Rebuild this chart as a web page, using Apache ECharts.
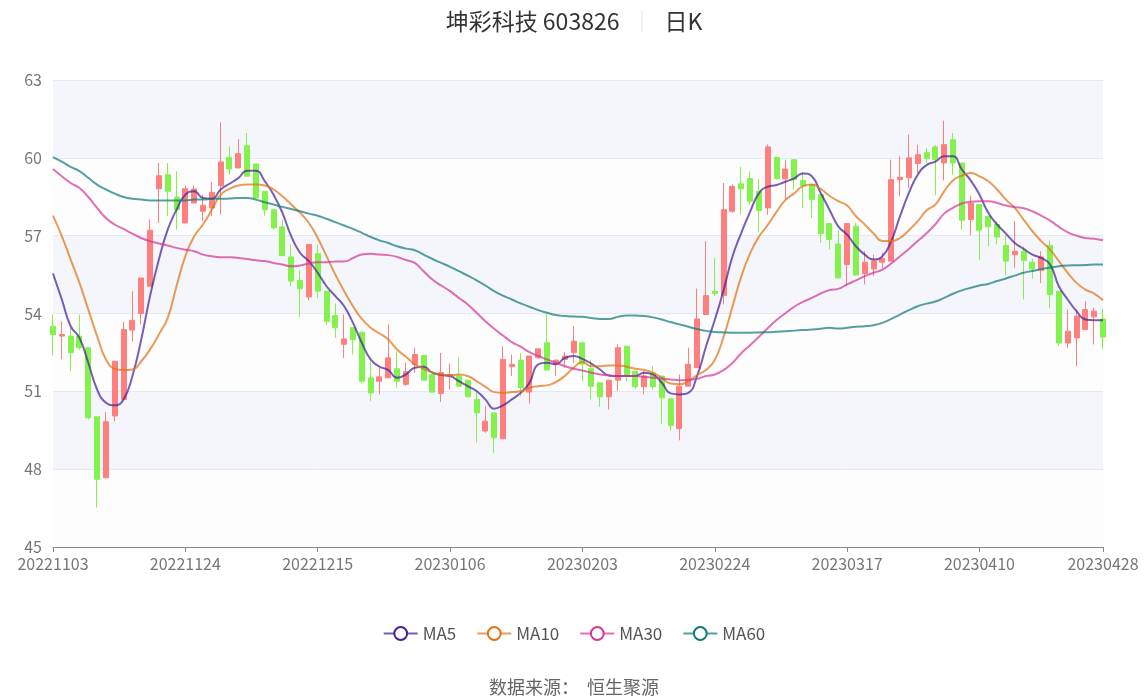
<!DOCTYPE html>
<html>
<head>
<meta charset="utf-8">
<script src="https://cdn.jsdelivr.net/npm/echarts@6/dist/echarts.min.js"></script>
<style>html,body{margin:0;padding:0;background:#fff}#c{width:1148px;height:699px}</style>
</head>
<body>
<div id="c"></div>
<script>
const dates = ['20221103','20221104','20221107','20221108','20221109','20221110','20221111','20221114','20221115','20221116','20221117','20221118','20221121','20221122','20221123','20221124','20221125','20221128','20221129','20221130',
'20221201','20221202','20221205','20221206','20221207','20221208','20221209','20221212','20221213','20221214','20221215','20221216','20221219','20221220','20221221','20221222','20221223','20221226','20221227','20221228','20221229','20221230',
'20230103','20230104','20230105','20230106','20230109','20230110','20230111','20230112','20230113','20230116','20230117','20230118','20230119','20230120','20230130','20230131',
'20230201','20230202','20230203','20230206','20230207','20230208','20230209','20230210','20230213','20230214','20230215','20230216','20230217','20230220','20230221','20230222','20230223','20230224','20230227','20230228',
'20230301','20230302','20230303','20230306','20230307','20230308','20230309','20230310','20230313','20230314','20230315','20230316','20230317','20230320','20230321','20230322','20230323','20230324','20230327','20230328','20230329','20230330','20230331',
'20230403','20230404','20230406','20230407','20230410','20230411','20230412','20230413','20230414','20230417','20230418','20230419','20230420','20230421','20230424','20230425','20230426','20230427','20230428'];

// [open, close, low, high]
const kData = [
[53.51,53.19,52.38,53.96],[53.13,53.19,52.23,53.70],[53.13,52.49,51.78,53.45],[53.13,52.68,52.60,53.96],[52.68,49.98,49.92,52.70],
[50.02,47.61,46.52,50.02],[47.67,49.83,47.67,50.20],[50.05,52.16,49.85,52.16],[50.69,53.38,50.69,53.68],[53.36,53.74,52.93,54.86],
[54.00,55.37,53.58,55.37],[55.05,57.21,55.05,57.62],[58.81,59.31,57.49,59.80],[59.35,58.71,57.75,59.80],[58.49,58.00,57.23,59.48],
[57.49,58.81,57.49,58.93],[58.26,58.80,58.26,58.93],[57.94,58.17,57.56,58.58],[58.07,58.67,57.75,59.06],[58.93,59.84,57.81,61.37],
[60.02,59.57,59.35,60.44],[59.61,60.16,59.61,60.72],[60.47,59.29,59.29,60.96],[59.76,58.45,58.45,59.76],[58.71,58.00,57.77,58.71],
[58.00,57.30,57.23,58.00],[57.34,56.23,56.23,57.62],[56.18,55.25,55.05,56.66],[55.27,54.96,53.87,55.67],[54.64,56.66,54.51,56.66],
[56.30,54.86,54.60,56.66],[54.86,53.70,53.58,54.86],[53.92,53.45,53.06,54.39],[52.81,53.02,52.29,53.96],[53.45,53.00,52.42,53.45],
[53.28,51.39,51.30,53.28],[51.52,50.94,50.62,52.16],[51.39,51.56,50.88,51.91],[51.52,52.29,51.52,53.58],[51.87,51.39,51.14,52.55],
[51.27,51.76,51.20,52.10],[52.04,52.42,51.72,52.68],[52.38,51.43,51.43,52.42],[51.65,50.97,50.97,51.65],[50.92,51.72,50.59,52.48],
[51.60,51.65,51.07,52.07],[51.59,51.20,51.20,52.30],[51.43,50.79,50.79,51.43],[50.69,50.17,49.02,51.00],[49.47,49.85,49.40,50.43],
[50.17,49.21,48.63,50.17],[49.17,52.23,49.17,52.74],[51.95,52.04,51.59,52.42],[52.20,51.14,50.82,52.48],[50.97,52.36,50.53,52.36],
[52.29,52.64,52.25,52.64],[52.87,51.82,51.82,54.00],[52.04,52.20,51.59,52.23],[52.23,52.36,51.91,52.51],[52.49,52.93,52.10,53.51],
[52.87,52.05,51.39,52.87],[51.87,51.20,50.69,52.23],[51.33,50.79,50.40,51.33],[50.79,51.43,50.30,51.43],[51.43,52.68,51.01,52.81],
[52.74,51.59,51.39,52.74],[51.78,51.18,51.10,51.78],[51.18,51.59,50.88,51.78],[51.71,51.18,51.07,51.97],[51.59,50.75,49.73,51.59],
[50.71,49.69,49.47,50.71],[49.56,51.20,49.11,51.65],[51.20,52.04,51.20,52.68],[51.91,53.79,51.91,54.96],[53.96,54.69,53.96,56.79],
[54.86,54.77,54.69,56.14],[54.69,58.00,54.35,59.03],[57.94,58.90,57.88,58.97],[59.00,58.81,57.81,59.65],[59.20,58.33,58.20,59.48],
[58.71,57.97,57.14,59.18],[58.07,60.42,57.81,60.51],[60.02,59.20,59.16,60.02],[59.19,59.57,58.39,59.93],[59.93,59.16,58.78,59.93],
[59.13,58.93,58.07,59.45],[58.97,58.39,57.68,58.97],[58.58,57.08,56.72,58.58],[57.47,56.85,56.47,57.47],[56.68,55.37,55.37,57.21],
[55.89,57.47,55.05,57.49],[57.36,55.48,55.48,57.49],[55.54,55.98,55.12,56.40],[55.72,56.02,55.44,56.27],[55.98,56.12,55.76,56.34],
[56.02,59.16,56.02,59.93],[59.16,59.25,58.52,60.06],[59.23,60.00,58.84,60.89],[59.78,60.12,59.42,60.51],[60.20,59.98,59.80,60.38],
[60.42,59.93,58.56,60.49],[59.80,60.51,59.13,61.43],[60.70,59.80,59.35,60.96],[59.80,57.59,57.21,59.80],[57.62,58.24,57.01,58.54],
[58.20,57.21,56.07,58.20],[57.75,57.34,56.59,57.75],[57.43,56.95,56.66,57.56],[56.62,56.02,55.48,57.04],[56.27,56.40,55.76,57.56],
[56.40,56.05,54.54,56.59],[55.98,55.72,55.34,56.11],[55.66,56.18,55.17,56.40],[56.62,54.73,54.21,56.81],[54.86,52.86,52.76,54.86],
[52.86,53.32,52.67,54.15],[53.06,53.90,51.97,54.15],[53.38,54.15,53.38,54.47],[53.87,54.09,52.81,54.22],[53.79,53.09,52.61,54.18]
];

const ma5 = [55.54,54.54,53.51,53.06,52.10,51.07,50.56,50.46,50.69,51.59,53.00,54.67,56.08,57.23,58.00,58.58,58.71,58.45,58.42,58.78,
59.00,59.22,59.50,59.50,59.10,58.58,57.88,56.98,56.34,56.02,55.57,55.05,54.67,54.28,53.64,52.87,52.23,51.95,51.82,51.52,
51.65,51.91,51.95,51.72,51.63,51.59,51.39,51.20,51.01,50.69,50.33,50.46,50.69,50.94,51.33,52.04,52.10,52.04,52.29,52.36,
52.25,52.07,51.84,51.61,51.59,51.59,51.59,51.72,51.65,51.33,50.92,50.88,50.94,51.60,52.72,53.75,54.90,56.19,57.10,57.92,
58.63,58.89,58.95,59.08,59.21,59.40,59.29,58.65,58.00,57.36,57.04,56.59,56.27,56.08,56.21,56.79,57.75,58.65,59.35,59.72,
59.85,60.06,60.06,59.55,59.13,58.58,57.88,57.43,57.08,56.72,56.49,56.27,56.14,55.89,55.05,54.54,54.09,53.77,53.74,53.74];

const ma10 = [57.77,56.98,56.08,55.18,54.15,53.13,52.23,51.87,51.82,51.84,52.16,52.61,53.19,53.83,55.05,56.21,56.98,57.43,58.00,58.58,
58.80,58.93,58.97,58.97,58.93,58.78,58.52,58.20,57.88,57.49,56.91,56.21,55.50,54.86,54.28,53.79,53.45,53.23,53.00,52.61,
52.33,52.04,51.87,51.72,51.65,51.61,51.65,51.59,51.39,51.18,50.97,50.94,50.97,51.00,51.14,51.20,51.23,51.36,51.59,51.91,
52.13,51.97,51.97,52.00,52.00,51.95,51.87,51.82,51.72,51.52,51.30,51.27,51.39,51.63,51.82,52.21,53.10,54.26,55.42,56.32,
56.96,57.41,57.92,58.37,58.63,58.91,58.97,58.80,58.54,58.33,58.16,57.75,57.43,57.08,56.79,56.79,56.91,57.21,57.56,57.97,
58.20,58.71,59.13,59.31,59.42,59.29,59.10,58.78,58.39,58.07,57.62,57.17,56.79,56.46,56.02,55.57,55.18,54.92,54.77,54.51];

const ma30 = [59.57,59.29,59.03,58.84,58.49,58.07,57.68,57.43,57.26,57.08,56.91,56.79,56.70,56.62,56.53,56.46,56.40,56.27,56.21,56.17,
56.17,56.14,56.10,56.05,56.02,55.95,55.89,55.82,55.85,55.93,55.98,55.98,56.00,56.00,56.14,56.27,56.30,56.27,56.25,56.18,
56.06,55.95,55.63,55.31,55.08,54.86,54.60,54.35,54.03,53.70,53.41,53.15,52.90,52.72,52.51,52.36,52.23,52.10,51.97,51.87,
51.80,51.72,51.65,51.61,51.59,51.59,51.59,51.56,51.52,51.49,51.46,51.43,51.45,51.48,51.59,51.65,51.82,52.09,52.47,52.78,
53.10,53.43,53.75,54.01,54.26,54.45,54.60,54.77,54.90,54.95,55.12,55.28,55.44,55.57,55.69,55.93,56.21,56.49,56.79,57.09,
57.44,57.85,58.07,58.24,58.31,58.33,58.33,58.26,58.16,58.10,58.06,57.94,57.77,57.58,57.34,57.13,57.00,56.91,56.88,56.82];

const ma60 = [60.03,59.85,59.65,59.49,59.23,58.97,58.78,58.62,58.49,58.42,58.39,58.36,58.36,58.36,58.36,58.36,58.39,58.39,58.42,58.42,
58.43,58.45,58.45,58.39,58.29,58.20,58.11,58.03,57.94,57.85,57.77,57.65,57.52,57.39,57.26,57.11,56.95,56.82,56.72,56.59,
56.50,56.44,56.27,56.10,55.95,55.80,55.63,55.46,55.28,55.08,54.86,54.69,54.54,54.39,54.26,54.13,54.03,53.94,53.90,53.88,
53.87,53.83,53.79,53.79,53.87,53.92,53.92,53.90,53.85,53.77,53.67,53.58,53.49,53.40,53.33,53.29,53.27,53.26,53.26,53.26,
53.27,53.28,53.30,53.32,53.34,53.36,53.38,53.41,53.45,53.42,53.45,53.49,53.51,53.55,53.64,53.79,53.96,54.13,54.28,54.38,
54.46,54.60,54.76,54.89,54.99,55.08,55.14,55.25,55.35,55.46,55.57,55.64,55.71,55.77,55.82,55.85,55.86,55.87,55.89,55.89];

const yTicks = {min: 45, max: 63, interval: 3};
const lastIdx = dates.length - 1;
const showLabel = (i) => i % 15 === 0 || i === lastIdx;

const FONT = '"Noto Sans CJK SC", "Noto Sans", sans-serif';

function maSeries(name, data, color) {
  return {
    name: name, type: 'line', data: data, smooth: true, showSymbol: false,
    symbol: 'emptyCircle', symbolSize: 8,
    itemStyle: {color: color, borderWidth: 2},
    lineStyle: {width: 2, color: color, opacity: 0.72},
    z: 3
  };
}

const chart = echarts.init(document.getElementById('c'));
chart.setOption({
  animation: false,
  textStyle: {fontFamily: FONT},
  title: [{
    text: '坤彩科技 603826{gap|}{sep|}{gap|}日K',
    left: 'center', top: 5,
    textStyle: {
      fontSize: 23, fontWeight: 'normal', color: '#333', fontFamily: FONT,
      rich: {
        gap: {width: 22},
        sep: {width: 1, height: 22, backgroundColor: '#e4e4e4'}
      }
    }
  }, {
    text: '数据来源：  恒生聚源',
    left: 'center', top: 673,
    textStyle: {fontSize: 18, fontWeight: 'normal', color: '#666', fontFamily: FONT}
  }],
  legend: {
    data: ['MA5', 'MA10', 'MA30', 'MA60'],
    left: 'center', top: 620,
    itemWidth: 34, itemHeight: 16, itemGap: 20,
    textStyle: {fontSize: 17, color: '#555'}
  },
  grid: {left: 53, right: 45, top: 80, bottom: 152},
  xAxis: {
    type: 'category', data: dates, boundaryGap: false,
    axisLine: {lineStyle: {color: '#888'}},
    axisTick: {show: true, alignWithLabel: true, interval: showLabel, lineStyle: {color: '#888'}},
    axisLabel: {interval: showLabel, color: '#777', fontSize: 16, margin: 9, showMaxLabel: true},
    splitLine: {show: false}
  },
  yAxis: {
    type: 'value', min: yTicks.min, max: yTicks.max, interval: yTicks.interval, scale: true,
    axisLine: {show: false}, axisTick: {show: false},
    axisLabel: {color: '#777', fontSize: 16, margin: 11},
    splitLine: {lineStyle: {color: '#e4e8f2'}},
    splitArea: {show: true, areaStyle: {color: ['#fdfdfe', '#f5f6fb']}}
  },
  series: [
    {
      name: 'K', type: 'candlestick', data: kData, barWidth: 5.5, clip: false,
      itemStyle: {
        color: '#ff7f7f', color0: '#83f24d',
        borderColor: '#ff7f7f', borderColor0: '#83f24d', borderWidth: 1
      },
      z: 2
    },
    maSeries('MA5', ma5, '#44209a'),
    maSeries('MA10', ma10, '#e07416'),
    maSeries('MA30', ma30, '#d43896'),
    maSeries('MA60', ma60, '#147a7a')
  ]
});
</script>
</body>
</html>
